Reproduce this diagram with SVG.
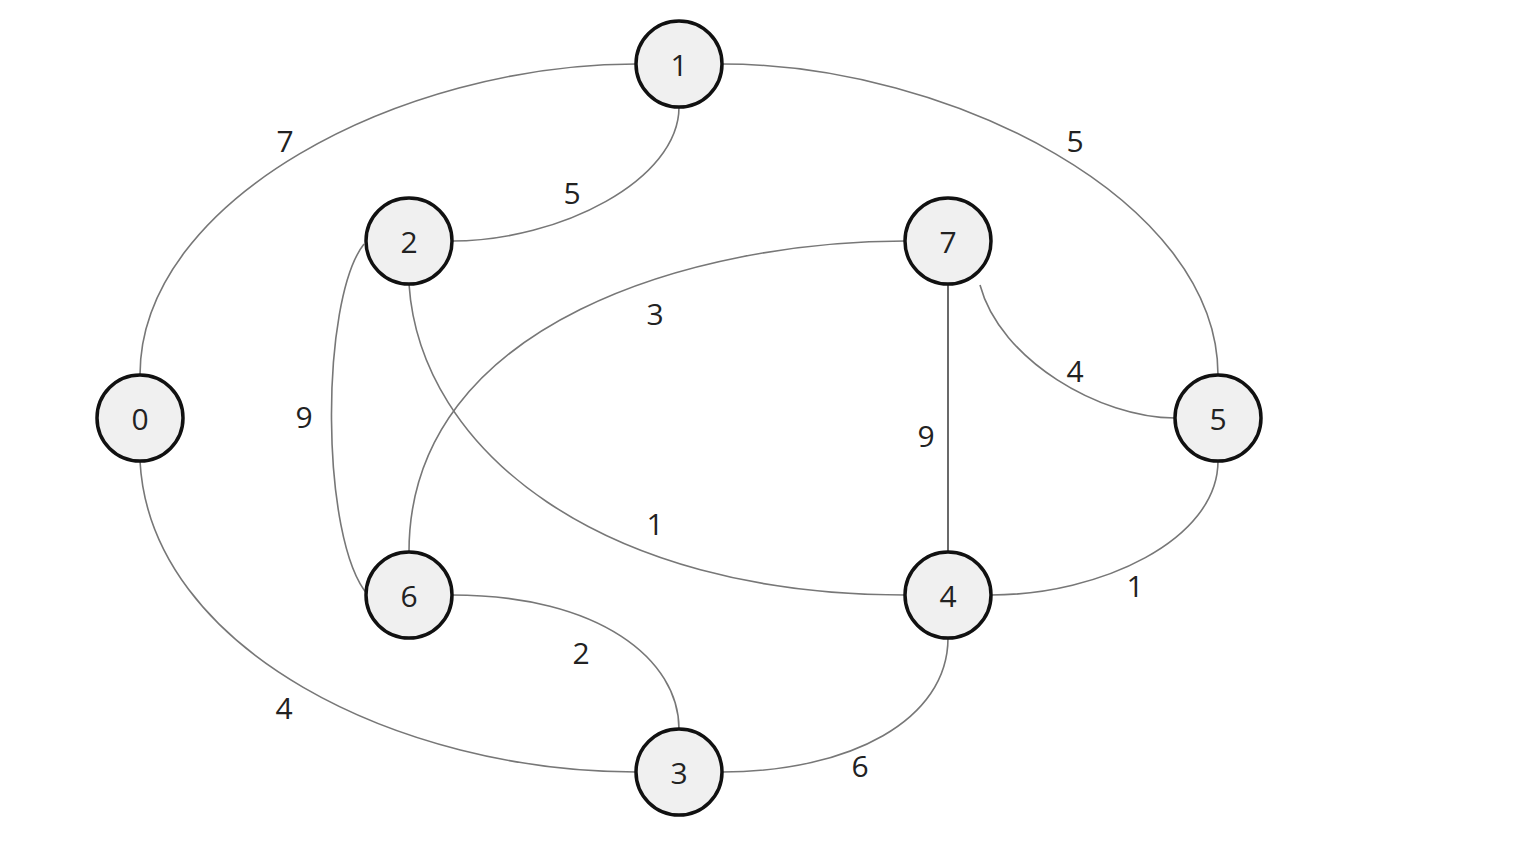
<svg xmlns="http://www.w3.org/2000/svg" width="1526" height="860" viewBox="0 0 1526 860">
<style>
.n circle{fill:#f0f0f0;stroke:#111;stroke-width:3.5}
text{font-family:"Open Sans","Liberation Sans",sans-serif;font-size:30px;fill:#222;text-anchor:middle;dominant-baseline:central}
#edges path{fill:none;stroke:#777;stroke-width:1.6}
</style>
<rect width="1526" height="860" fill="#fff"/>
<g id="edges">
<path d="M140,375 C140,200 400,64 636,64"/>
<path d="M722,64 C950,64 1218,200 1218,375"/>
<path d="M679,107 C679,180 560,241 452,241"/>
<path d="M364,244 C320,300 320,540 368,595"/>
<path d="M409,284 C420,450 600,595 905,595"/>
<path d="M905,241 C700,241 409,320 409,552"/>
<path d="M948,284 L948,552" style="stroke:#444"/>
<path d="M980,285 C1000,360 1100,418 1175,418"/>
<path d="M1218,461 C1218,540 1100,595 991,595"/>
<path d="M452,595 C600,595 679,660 679,729"/>
<path d="M140,461 C150,650 400,772 636,772"/>
<path d="M948,638 C948,720 850,772 722,772"/>
<g id="labels">
<text x="285" y="140">7</text><text x="1075" y="140">5</text><text x="572" y="192">5</text>
<text x="304" y="416">9</text><text x="655" y="523">1</text><text x="655" y="313">3</text>
<text x="926" y="435">9</text><text x="1075" y="370">4</text><text x="1135" y="585">1</text>
<text x="581" y="652">2</text><text x="284" y="707">4</text><text x="860" y="765">6</text>
</g>
</g>
<g id="node0" class="n"><circle cx="140" cy="418" r="43"/><text x="140" y="418">0</text></g>
<g id="node1" class="n"><circle cx="679" cy="64" r="43"/><text x="679" y="64">1</text></g>
<g id="node2" class="n"><circle cx="409" cy="241" r="43"/><text x="409" y="241">2</text></g>
<g id="node3" class="n"><circle cx="679" cy="772" r="43"/><text x="679" y="772">3</text></g>
<g id="node4" class="n"><circle cx="948" cy="595" r="43"/><text x="948" y="595">4</text></g>
<g id="node5" class="n"><circle cx="1218" cy="418" r="43"/><text x="1218" y="418">5</text></g>
<g id="node6" class="n"><circle cx="409" cy="595" r="43"/><text x="409" y="595">6</text></g>
<g id="node7" class="n"><circle cx="948" cy="241" r="43"/><text x="948" y="241">7</text></g>
</svg>
